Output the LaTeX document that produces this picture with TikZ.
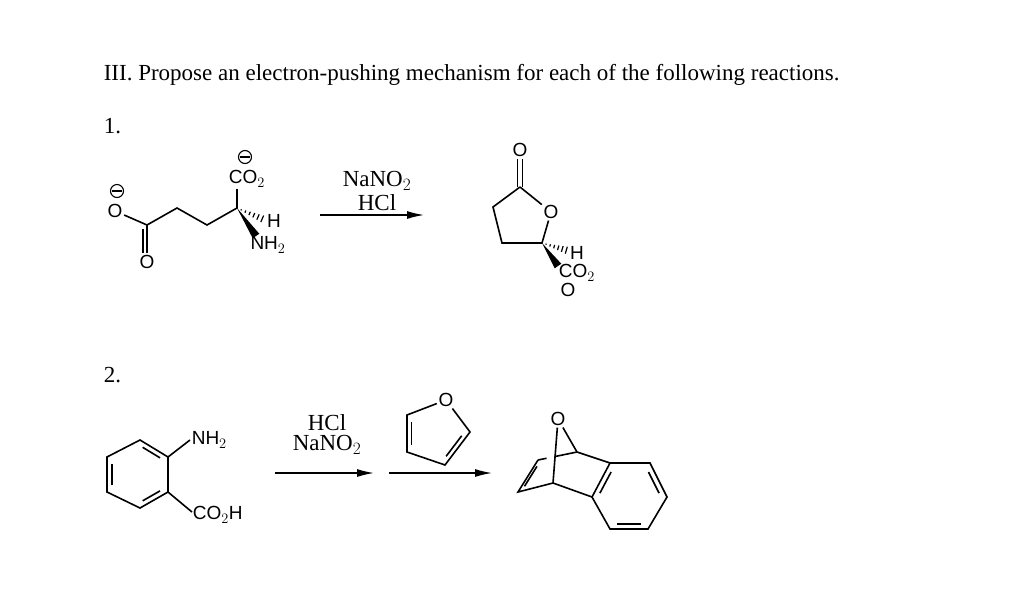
\documentclass[tikz,border=0pt]{standalone}
\usepackage{fontspec}
\setmainfont{Liberation Serif}
\newfontfamily\chemf{Liberation Sans}
\usetikzlibrary{calc,arrows.meta}
\begin{document}
\begin{tikzpicture}[x=1pt,y=-1pt,line width=1.6pt,
  txt/.style={font=\fontsize{23}{25}\selectfont,inner sep=0pt},
  atom/.style={font=\chemf\fontsize{19}{21}\selectfont,inner sep=1pt},
  neg/.style={circle,draw,line width=1.1pt,minimum size=13pt,inner sep=0pt},
  rxn/.style={-{Latex[length=17pt,width=8pt]},line width=1.4pt}]
\useasboundingbox (0,0) rectangle (1024,595);
\fill[white] (0,0) rectangle (1024,595);
\newcommand\inbond[3]{\draw ($($(#1)!0.13!(#2)$)!0.16!(#3)$) -- ($($(#2)!0.13!(#1)$)!0.16!(#3)$);}
\newcommand\wdg[2]{\fill ($(#1)$) -- ($(#2)!4pt!90:(#1)$) -- ($(#2)!4pt!-90:(#1)$) -- cycle;}
\newcommand\hashb[2]{\foreach \t in {0.15,0.3,...,1.0}{\draw[line width=1.2pt] ($($(#1)!\t!(#2)$)!\t*4pt!90:(#2)$) -- ($($(#1)!\t!(#2)$)!\t*4pt!-90:(#2)$);}}
% title
\node[txt,anchor=base west] (title) at (103,80) {III. Propose an electron-pushing mechanism for each of the following reactions.};
\node[txt,anchor=base west] (n1) at (103,133) {1.};
\node[txt,anchor=base west] (n2) at (103,382) {2.};
% molecule 1
\node[atom] (o1) at (115,211) {O};
\node[neg] (m1) at (117,191) {};
\draw ($(m1.west)+(2.5pt,0)$) -- ($(m1.east)+(-2.5pt,0)$);
\coordinate (c1) at (147,225);
\node[atom] (o2) at (147,262) {O};
\coordinate (c2) at (177,208);
\coordinate (c3) at (207,225);
\coordinate (c4) at (237,208);
\node[atom,anchor=south] (co2a) at (247,189) {CO$_2$};
\node[neg] (m2) at (245,157) {};
\draw ($(m2.west)+(2.5pt,0)$) -- ($(m2.east)+(-2.5pt,0)$);
\node[atom] (h1) at (274,221) {H};
\node[atom] (nh2) at (268,245) {NH$_2$};
\draw (o1) -- (c1) -- (c2) -- (c3) -- (c4) -- (co2a.south -| c4);
\draw (c1) -- (o2.north);
\draw ($(c1)+(-4,4)$) -- ($(o2.north)+(-4,0)$);
\coordinate (hend) at (265,220);
\hashb{c4}{hend}
\coordinate (nend) at (256,236);
\wdg{c4}{nend}
% arrow 1
\coordinate (a1s) at (320,215); \coordinate (a1e) at (424,215);
\draw[rxn] (a1s) -- (a1e);
\node[txt] (r1) at (377,181) {NaNO$_2$};
\node[txt] (r2) at (377,203) {HCl};
% product 1
\coordinate (pc1) at (520,187);
\node[atom] (po1) at (520,150) {O};
\node[atom] (po2) at (551,212) {O};
\coordinate (pc2) at (542,243);
\coordinate (pc3) at (502,243);
\coordinate (pc4) at (493,207);
\draw (pc1) -- (po2) -- (pc2) -- (pc3) -- (pc4) -- (pc1);
\draw ($(pc1)+(-2.4,0)$) -- ($(po1.south)+(-2.4,0)$);
\draw ($(pc1)+(2.4,0)$) -- ($(po1.south)+(2.4,0)$);
\node[atom] (ph) at (577,253) {H};
\coordinate (phend) at (569,251);
\hashb{pc2}{phend}
\coordinate (pwend) at (558,266);
\wdg{pc2}{pwend}
\node[atom,anchor=west] (pco2) at (557,273) {CO$_2$};
\node[atom] (pom) at (568,290) {O};
% scheme 2 benzene
\coordinate (b1) at (140,440); \coordinate (b2) at (168,457); \coordinate (b3) at (168,492);
\coordinate (b4) at (140,508); \coordinate (b5) at (107,492); \coordinate (b6) at (107,457);
\coordinate (bc) at (137.5,474);
\draw (b1)--(b2)--(b3)--(b4)--(b5)--(b6)--cycle;
\inbond{b1}{b2}{bc} \inbond{b5}{b6}{bc} \inbond{b3}{b4}{bc}
\node[atom,anchor=west] (anh) at (190,440) {NH$_2$};
\node[atom,anchor=west] (aco) at (191,515) {CO$_2$H};
\draw (b2) -- (anh.west);
\draw (b3) -- ($(aco.west)+(1,-3)$);
% arrows 2
\draw[rxn] (275,473) -- (374,473);
\node[txt] (r3) at (327,423) {HCl};
\node[txt] (r4) at (327,445) {NaNO$_2$};
\draw[rxn] (389,473) -- (492,473);
% furan
\node[atom] (fo) at (446,400) {O};
\coordinate (f1) at (407,415); \coordinate (f2) at (407,452);
\coordinate (f3) at (445,465); \coordinate (f4) at (470,432);
\coordinate (fc) at (435,433);
\draw (fo) -- (f1) -- (f2) -- (f3) -- (f4) -- (fo);
\inbond{f1}{f2}{fc} \inbond{f3}{f4}{fc}
% product 2
\node[atom] (qo) at (558,419) {O};
\coordinate (qt) at (577,452); \coordinate (qb) at (553,483);
\coordinate (qa1) at (538,460); \coordinate (qa2) at (518,492);
\coordinate (qr1) at (610,463); \coordinate (qr2) at (650,463); \coordinate (qr3) at (667,497);
\coordinate (qr4) at (648,529); \coordinate (qr5) at (610,529); \coordinate (qr6) at (592,497);
\coordinate (qrc) at (629,496);
\coordinate (qac) at (545,478);
\draw (qo) -- (qt);
\draw (qo) -- (qb);
\draw (qt) -- (qr1); \draw (qb) -- (qr6);
\draw (qb) -- (qa2) -- (qa1);
\draw (qa1) -- ($(qa1)!0.22!(qt)$);
\draw ($(qa1)!0.42!(qt)$) -- (qt);
\inbond{qa1}{qa2}{qac}
\draw (qr1)--(qr2)--(qr3)--(qr4)--(qr5)--(qr6)--cycle;
\inbond{qr1}{qr6}{qrc} \inbond{qr2}{qr3}{qrc} \inbond{qr4}{qr5}{qrc}
\end{tikzpicture}
\end{document}
